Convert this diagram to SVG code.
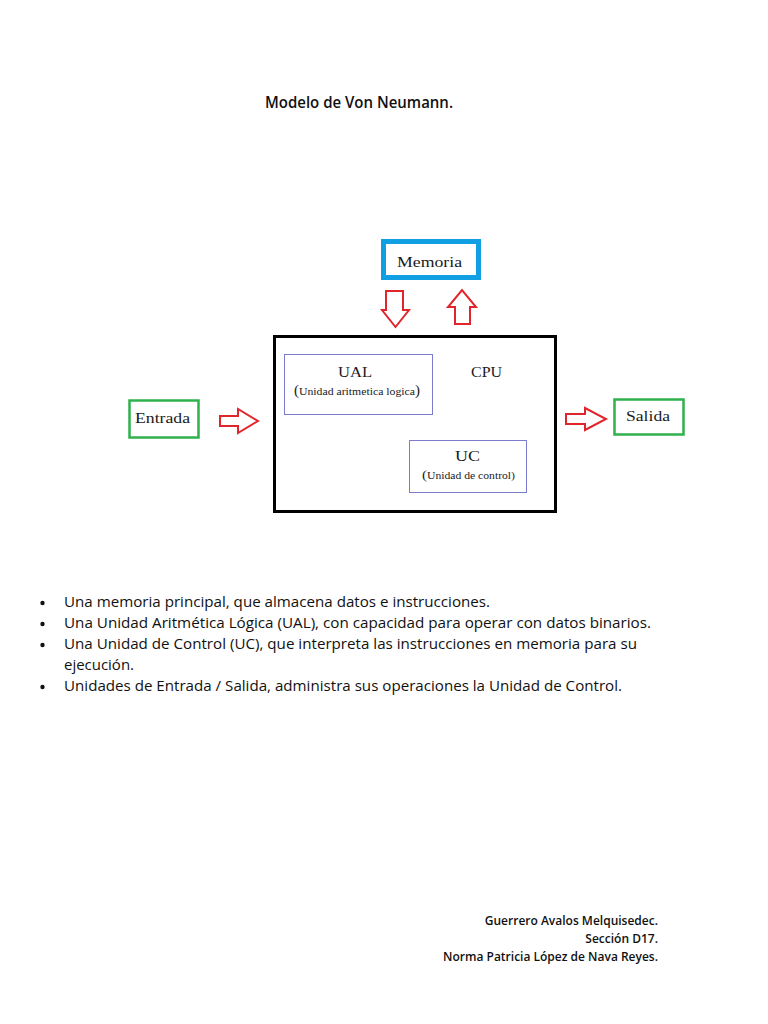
<svg xmlns="http://www.w3.org/2000/svg" width="768" height="1024" viewBox="0 0 768 1024">
<defs>
<style>
.sans{font-family:"Open Sans","Noto Sans","Liberation Sans",sans-serif;fill:#111111}
.serif{font-family:"Liberation Serif","DejaVu Serif",serif;fill:#1a1a1a}
.arrow{fill:#ffffff;stroke:#e0262b;stroke-width:2;stroke-linejoin:miter}
.green{fill:#ffffff;stroke:#2fb14c;stroke-width:2.5}
.inner{fill:#ffffff;stroke:#7b7bd0;stroke-width:1}
</style>
</defs>
<rect width="768" height="1024" fill="#ffffff"/>
<text class="sans" x="265" y="108" font-size="15.5" font-weight="600" textLength="188" lengthAdjust="spacingAndGlyphs">Modelo de Von Neumann.</text>

<g id="memoria">
<rect x="383.5" y="241.5" width="95" height="36" fill="#ffffff" stroke="#109fe3" stroke-width="5"/>
<text class="serif" x="397" y="267" font-size="15" textLength="65" lengthAdjust="spacingAndGlyphs">Memoria</text>
</g>

<g id="cpu">
<rect x="274.5" y="336.5" width="281" height="175" fill="#ffffff" stroke="#000000" stroke-width="3"/>
<text class="serif" x="471" y="377" font-size="15.5" textLength="31" lengthAdjust="spacingAndGlyphs">CPU</text>
</g>

<g id="ual">
<rect x="284.5" y="354.5" width="148" height="60" class="inner"/>
<text class="serif" x="338" y="377" font-size="15.5" textLength="34" lengthAdjust="spacingAndGlyphs">UAL</text>
<text class="serif" x="294" y="395" font-size="11" textLength="126" lengthAdjust="spacingAndGlyphs"><tspan font-size="14">(</tspan>Unidad aritmetica logica<tspan font-size="14">)</tspan></text>
</g>

<g id="uc">
<rect x="409.5" y="440.5" width="117" height="52" class="inner"/>
<text class="serif" x="455" y="461" font-size="15.5" textLength="25" lengthAdjust="spacingAndGlyphs">UC</text>
<text class="serif" x="422" y="479" font-size="10.5" textLength="93" lengthAdjust="spacingAndGlyphs"><tspan font-size="13.5">(</tspan>Unidad de control)</text>
</g>

<g id="entrada">
<rect x="129.5" y="400.5" width="69" height="37" class="green"/>
<text class="serif" x="135" y="423" font-size="15" textLength="55" lengthAdjust="spacingAndGlyphs">Entrada</text>
</g>

<g id="salida">
<rect x="614.5" y="399.5" width="69" height="35" class="green"/>
<text class="serif" x="626" y="421" font-size="15" textLength="44" lengthAdjust="spacingAndGlyphs">Salida</text>
</g>

<g id="connectors">
<polygon class="arrow" points="386,291 403,291 403,310 409,310 395.5,327 382,310 386,310"/>
<polygon class="arrow" points="455,324 470,324 470,307 476,307 462,290 448,307 455,307"/>
<polygon class="arrow" points="220,416 238,416 238,409 258,421 238,433 238,426 220,426"/>
<polygon class="arrow" points="566,414 585,414 585,408 606,419 585,430 585,424 566,424"/>
</g>

<g id="bullets" class="sans" font-size="14.5" font-weight="500">
<circle cx="42.5" cy="603" r="2.2" fill="#111111"/>
<circle cx="42.5" cy="624" r="2.2" fill="#111111"/>
<circle cx="42.5" cy="645" r="2.2" fill="#111111"/>
<circle cx="42.5" cy="687" r="2.2" fill="#111111"/>
<text x="64" y="607" textLength="426" lengthAdjust="spacingAndGlyphs">Una memoria principal, que almacena datos e instrucciones.</text>
<text x="64" y="628" textLength="587" lengthAdjust="spacingAndGlyphs">Una Unidad Aritmética Lógica (UAL), con capacidad para operar con datos binarios.</text>
<text x="64" y="649" textLength="573" lengthAdjust="spacingAndGlyphs">Una Unidad de Control (UC), que interpreta las instrucciones en memoria para su</text>
<text x="64" y="670" textLength="70" lengthAdjust="spacingAndGlyphs">ejecución.</text>
<text x="64" y="691" textLength="558" lengthAdjust="spacingAndGlyphs">Unidades de Entrada / Salida, administra sus operaciones la Unidad de Control.</text>
</g>

<g id="footer" class="sans" font-size="12" font-weight="600" text-anchor="end">
<text x="658" y="925">Guerrero Avalos Melquisedec.</text>
<text x="658" y="943">Sección D17.</text>
<text x="658" y="961">Norma Patricia López de Nava Reyes.</text>
</g>
</svg>
